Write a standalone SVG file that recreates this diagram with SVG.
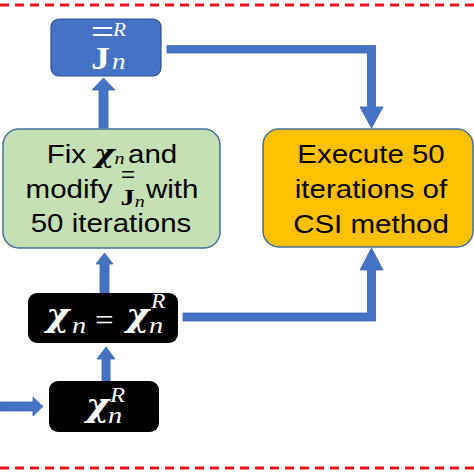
<svg xmlns="http://www.w3.org/2000/svg" width="474" height="474" viewBox="0 0 474 474">
<style>
.sans{font-family:"Liberation Sans",Arial,sans-serif;font-size:25px;fill:#000}
.ser{font-family:"Liberation Serif","Times New Roman",serif}
.eq{font-family:"Liberation Sans",Arial,sans-serif}
.chi{font-family:"DejaVu Serif",serif;font-weight:bold;font-style:italic}
.it{font-style:italic}
.b{font-weight:bold}
.w{fill:#fff}
.arrow{fill:#4472C4;stroke:#3A64AE;stroke-width:0.8}
.dash{stroke:#E8121B;stroke-width:3;stroke-dasharray:9 6;fill:none}
</style>
<rect width="474" height="474" fill="#fff"/>
<line class="dash" x1="0" y1="5" x2="474" y2="5"/>
<line class="dash" x1="0" y1="468" x2="474" y2="468"/>

<g id="connectors">
<polygon class="arrow" points="99,128 99,90 92,90 103.5,78 115,90 108,90 108,128"/>
<polygon class="arrow" points="167,45.5 375.5,45.5 375.5,107 383,107 371.5,128 360,107 367.5,107 367.5,53 167,53"/>
<polygon class="arrow" points="100,293 100,264 96,264 104.5,253 113,264 109,264 109,293"/>
<polygon class="arrow" points="183,313 367.5,313 367.5,270 360,270 371.5,248 383,270 375.5,270 375.5,321 183,321"/>
<polygon class="arrow" points="102,381 102,359 97,359 106,347 115,359 110,359 110,381"/>
<polygon class="arrow" points="0,402 33,402 33,397 43,406.5 33,416 33,411 0,411"/>
</g>

<g id="node-J">
<rect x="51" y="19" width="110" height="57" rx="8" fill="#4472C4" stroke="#2F528F" stroke-width="1.2"/>
<text class="eq w" font-size="27" transform="matrix(1.45 0 0 1 91 41)">=</text>
<text class="ser it w" font-size="18" transform="matrix(1.18 0 0 1 113 36)">R</text>
<text class="ser b w" font-size="32" transform="matrix(1.18 0 0 1 91 69)">J</text>
<text class="ser it w" font-size="23" transform="matrix(1.18 0 0 1 112 69)">n</text>
</g>

<g id="node-fix">
<rect x="3" y="129" width="217" height="119" rx="16" fill="#C5E0B4" stroke="#41719C" stroke-width="1.5"/>
<text class="sans" text-anchor="middle" transform="matrix(1.18 0 0 1 112 163)">Fix <tspan class="chi" font-size="26">χ</tspan><tspan class="ser it" font-size="17" dy="1">n</tspan><tspan dy="-1" dx="3">and</tspan></text>
<text class="sans" text-anchor="middle" transform="matrix(1.18 0 0 1 112 198)">modify <tspan class="ser b" font-size="24" dy="7">J</tspan><tspan class="ser it" font-size="17" dy="2">n</tspan><tspan dy="-9" dx="1">with</tspan></text>
<text class="eq" font-size="22" transform="matrix(1.1 0 0 1 121 182)">=</text>
<text class="sans" text-anchor="middle" transform="matrix(1.18 0 0 1 111 232)">50 iterations</text>
</g>

<g id="node-csi">
<rect x="263" y="129" width="210" height="118" rx="16" fill="#FFC000" stroke="#41719C" stroke-width="1.5"/>
<text class="sans" text-anchor="middle" transform="matrix(1.18 0 0 1 371 163)">Execute 50</text>
<text class="sans" text-anchor="middle" transform="matrix(1.18 0 0 1 371 198)">iterations of</text>
<text class="sans" text-anchor="middle" transform="matrix(1.18 0 0 1 371 233)">CSI method</text>
</g>

<g id="node-chi-eq">
<rect x="28" y="293" width="150" height="50" rx="9" fill="#000"/>
<text class="chi w" font-size="32" transform="matrix(1.1 0 0 1 46 326)">χ</text>
<text class="ser it w" font-size="24" transform="matrix(1.18 0 0 1 72 333)">n</text>
<text class="ser w" font-size="30" transform="matrix(1.1 0 0 1 95 330)">=</text>
<text class="chi w" font-size="32" transform="matrix(1.1 0 0 1 126 326)">χ</text>
<text class="ser it w" font-size="24" transform="matrix(1.18 0 0 1 149 333)">n</text>
<text class="ser it w" font-size="20" transform="matrix(1.18 0 0 1 151 308)">R</text>
</g>

<g id="node-chi-R">
<rect x="49" y="381" width="110" height="51" rx="9" fill="#000"/>
<text class="chi w" font-size="32" transform="matrix(1.1 0 0 1 86 416)">χ</text>
<text class="ser it w" font-size="21" transform="matrix(1.18 0 0 1 110 402)">R</text>
<text class="ser it w" font-size="24" transform="matrix(1.18 0 0 1 108 423)">n</text>
</g>
</svg>
